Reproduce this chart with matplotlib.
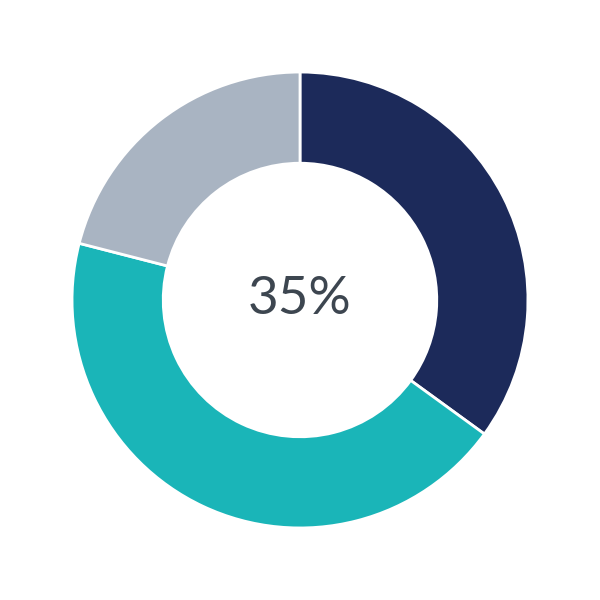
import matplotlib.pyplot as plt

labels = ['Navy', 'Teal', 'Gray']
values = [35, 44, 21]
colors = ['#1c2a5a', '#1ab5b8', '#a9b4c2']
center_label = '35%'

fig = plt.figure(figsize=(6, 6), dpi=100)
ax = fig.add_axes([0, 0, 1, 1])
ax.pie(values, colors=colors, startangle=90, counterclock=False, radius=1.0,
       wedgeprops=dict(width=0.4, edgecolor='white', linewidth=2))
ax.text(0, 0, center_label, ha='center', va='center', fontsize=38,
        color='#3d4650', family=['Lato', 'DejaVu Sans'])
ax.set_xlim(-1.316, 1.316)
ax.set_ylim(-1.316, 1.316)
ax.set_aspect('equal')
ax.axis('off')
plt.savefig('out.png', dpi=100)
